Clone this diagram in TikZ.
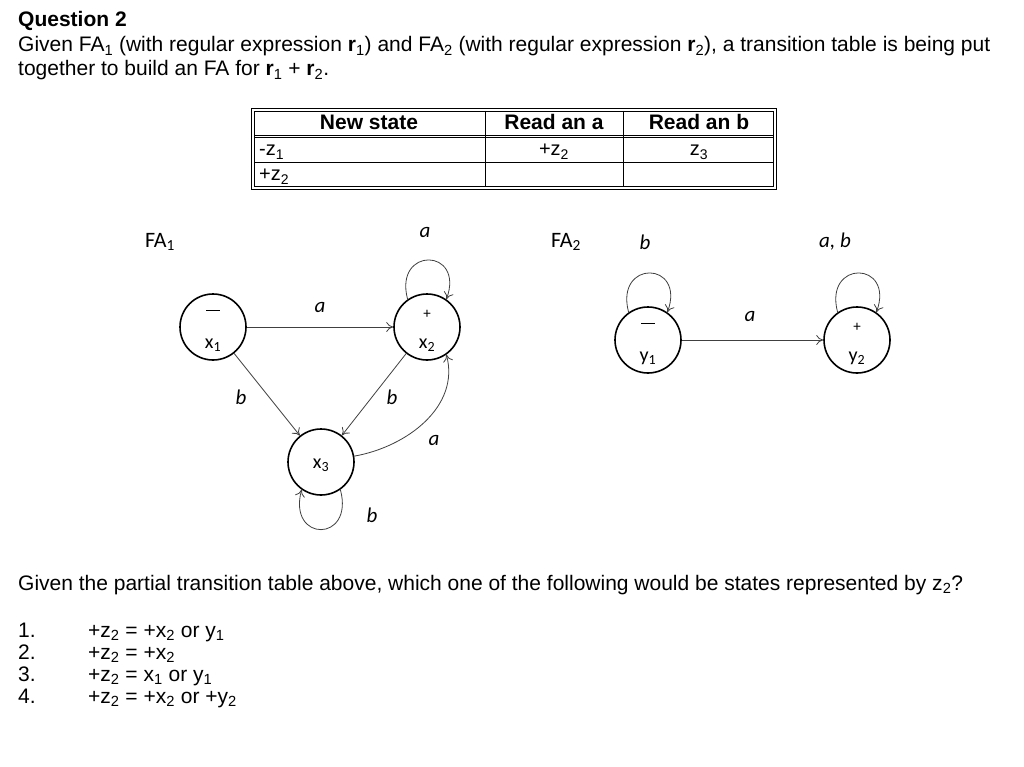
\documentclass[tikz,border=0pt]{standalone}
\usepackage{fontspec}
\setmainfont{Liberation Sans}
\newfontfamily\calib{Carlito}
\usetikzlibrary{positioning,arrows.meta}
\tikzset{
  state/.style={circle, draw=black, line width=1.6pt, minimum size=66pt, inner sep=0pt},
  lbl/.style={font=\calib\fontsize{21}{23}\selectfont\itshape},
  stt/.style={font=\calib\fontsize{20}{22}\selectfont},
  txt/.style={anchor=base west, inner sep=0pt, font=\fontsize{21}{24}\selectfont},
  cell/.style={anchor=base, inner sep=0pt, font=\fontsize{20}{22}\selectfont},
  tr/.style={-{To[length=7pt,width=10pt]}, draw=black!75, line width=0.8pt}
}
\newcommand{\minusbar}{\rule[0.3ex]{14pt}{1pt}}
\begin{document}
\begin{tikzpicture}[x=1pt, y=-1pt]
\useasboundingbox (0,0) rectangle (1024,767);
% question text
\node [txt, font=\fontsize{21}{24}\selectfont\bfseries] (qh) at (18,27) {Question 2};
\node [txt] (q1) at (18,52) {Given FA\textsubscript{1} (with regular expression \textbf{r}\textsubscript{1}) and FA\textsubscript{2} (with regular expression \textbf{r}\textsubscript{2}), a transition table is being put};
\node [txt] (q2) at (18,76) {together to build an FA for \textbf{r}\textsubscript{1} + \textbf{r}\textsubscript{2}.};
% table
\draw [line width=0.8pt] (251,108) rectangle (776,189);
\draw [line width=0.8pt] (254,111) rectangle (773,186);
\draw (254,135) -- (773,135);
\draw (254,137) -- (773,137);
\draw (254,162) -- (773,162);
\draw (485,111) -- (485,186);
\draw (623,111) -- (623,186);
\node [cell, font=\fontsize{21}{24}\selectfont\bfseries] (h1) at (369,130) {New state};
\node [cell, font=\fontsize{21}{24}\selectfont\bfseries] (h2) at (554,130) {Read an a};
\node [cell, font=\fontsize{21}{24}\selectfont\bfseries] (h3) at (699,130) {Read an b};
\node [cell, anchor=base west] (c11) at (259,156) {-z\textsubscript{1}};
\node [cell] (c12) at (554,156) {+z\textsubscript{2}};
\node [cell] (c13) at (699,156) {z\textsubscript{3}};
\node [cell, anchor=base west] (c21) at (259,181) {+z\textsubscript{2}};
% FA1
\node [stt, font=\calib\fontsize{22}{24}\selectfont] (fa1) at (160,242) {FA\textsubscript{1}};
\node [state] (x1) at (213,327) {};
\node [state] (x2) at (427,327) {};
\node [state] (x3) at (321,462) {};
\node [stt] (x1m) at (213,312) {\minusbar};
\node [stt] (x1n) at (213,345) {x\textsubscript{1}};
\node [stt, font=\calib\fontsize{15}{16}\selectfont] (x2p) at (427,314) {+};
\node [stt] (x2n) at (427,345) {x\textsubscript{2}};
\node [stt] (x3n) at (321,465) {x\textsubscript{3}};
\draw [tr] (x1) -- (x2);
\draw [tr] (x1) -- (x3);
\draw [tr] (x2) -- (x3);
\draw [tr] (x3.10) to [out=10, in=-75] (x2.-55);
\draw [tr] (x2.125) .. controls +(-105:55) and +(-70:55) .. (x2.55);
\draw [tr] (x3.-55) .. controls +(75:55) and +(105:55) .. (x3.-125);
\node [lbl] (la1) at (320,307) {a};
\node [lbl] (lb1) at (241,397) {b};
\node [lbl] (lb2) at (392,397) {b};
\node [lbl] (la2) at (434,440) {a};
\node [lbl] (la3) at (425,232) {a};
\node [lbl] (lb3) at (372,515) {b};
% FA2
\node [stt, font=\calib\fontsize{22}{24}\selectfont] (fa2) at (566,242) {FA\textsubscript{2}};
\node [state] (y1) at (648,340) {};
\node [state] (y2) at (857,340) {};
\node [stt] (y1m) at (648,325) {\minusbar};
\node [stt] (y1n) at (648,358) {y\textsubscript{1}};
\node [stt, font=\calib\fontsize{15}{16}\selectfont] (y2p) at (857,327) {+};
\node [stt] (y2n) at (857,358) {y\textsubscript{2}};
\draw [tr] (y1) -- (y2);
\draw [tr] (y1.125) .. controls +(-105:55) and +(-70:55) .. (y1.55);
\draw [tr] (y2.125) .. controls +(-105:55) and +(-70:55) .. (y2.55);
\node [lbl] (lb4) at (645,242) {b};
\node [lbl] (lab) at (835,242) {a, b};
\node [lbl] (la4) at (750,316) {a};
% question and options
\node [txt] (q3) at (18,590) {Given the partial transition table above, which one of the following would be states represented by z\textsubscript{2}?};
\foreach \n/\t [count=\i] in {1/{+z\textsubscript{2} = +x\textsubscript{2} or y\textsubscript{1}}, 2/{+z\textsubscript{2} = +x\textsubscript{2}}, 3/{+z\textsubscript{2} = x\textsubscript{1} or y\textsubscript{1}}, 4/{+z\textsubscript{2} = +x\textsubscript{2} or +y\textsubscript{2}}}{
  \node [txt] (n\i) at (18,615+22*\i) {\n.};
  \node [txt] (o\i) at (88,615+22*\i) {\t};
}
\end{tikzpicture}
\end{document}
